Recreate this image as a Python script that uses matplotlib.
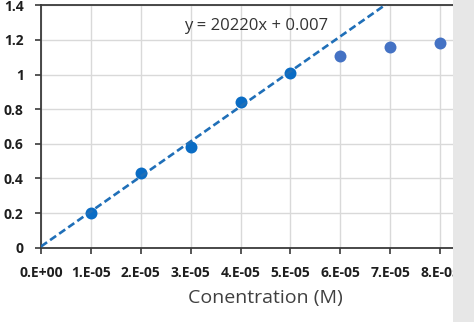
import numpy as np
import matplotlib
matplotlib.use("Agg")
import matplotlib.pyplot as plt
from matplotlib.patches import Rectangle

# Absorbance vs concentration
conc_linear = [1e-5, 2e-5, 3e-5, 4e-5, 5e-5]
abs_linear = [0.20, 0.43, 0.58, 0.84, 1.01]
conc_plateau = [6e-5, 7e-5, 8e-5]
abs_plateau = [1.11, 1.16, 1.18]

# Linear trendline fitted to the linear region
slope = 20220
intercept = 0.007
equation_label = "y = 20220x + 0.007"

x_ticks = [0, 1e-5, 2e-5, 3e-5, 4e-5, 5e-5, 6e-5, 7e-5, 8e-5]
x_tick_labels = ["0.E+00", "1.E-05", "2.E-05", "3.E-05", "4.E-05",
                 "5.E-05", "6.E-05", "7.E-05", "8.E-05"]
y_ticks = [0, 0.2, 0.4, 0.6, 0.8, 1.0, 1.2, 1.4]
y_tick_labels = ["0", "0.2", "0.4", "0.6", "0.8", "1", "1.2", "1.4"]
x_title = "Conentration (M)"

plt.rcParams["font.family"] = ["Open Sans", "DejaVu Sans"]

W, H = 474, 322
fig = plt.figure(figsize=(W / 100, H / 100), dpi=100)
ax = fig.add_axes([41 / W, 1 - 247.7 / H, (453 - 41) / W, (247.7 - 5.3) / H])

ax.set_xlim(0, 8.26e-5)
ax.set_ylim(0, 1.4)

ax.set_xticks(x_ticks)
ax.set_xticklabels(x_tick_labels)
ax.set_yticks(y_ticks)
ax.set_yticklabels(y_tick_labels)

ax.grid(True, color="#d9d9d9", lw=1.0, zorder=0)
ax.set_axisbelow(True)

dark = "#3a3a3a"
for side in ("left", "bottom", "top"):
    ax.spines[side].set_color(dark)
    ax.spines[side].set_linewidth(1.3)
ax.spines["right"].set_visible(False)

ax.tick_params(axis="both", direction="out", length=4.5, width=1.2, color=dark,
               labelsize=10, labelcolor="#1e1e1e")
ax.tick_params(axis="x", pad=9)
ax.tick_params(axis="y", pad=8)
for lbl in ax.get_xticklabels() + ax.get_yticklabels():
    lbl.set_fontweight("bold")

ax.plot(conc_linear, abs_linear, "o", color="#0a6cc4", ms=8.6, mec="none", zorder=3)
ax.plot(conc_plateau, abs_plateau, "o", color="#4472c4", ms=8.6, mec="none", zorder=3)

xs = np.array([0, 8.26e-5])
ax.plot(xs, slope * xs + intercept, color="#1f6fb8", lw=1.9,
        dashes=(2.8, 1.4), zorder=4, clip_on=True)

fig.text(184 / W, 1 - 26 / H, equation_label, fontsize=12, color="#333333",
         ha="left", va="center")
fig.text(265 / W, 1 - 298 / H, x_title, fontsize=14, color="#404040",
         ha="center", va="center")

# light grey band along the right edge
fig.add_artist(Rectangle((453 / W, 0), 1 - 453 / W, 1, transform=fig.transFigure,
                         facecolor="#e7e7e7", edgecolor="none", zorder=10))

fig.savefig("out.png", dpi=100)
